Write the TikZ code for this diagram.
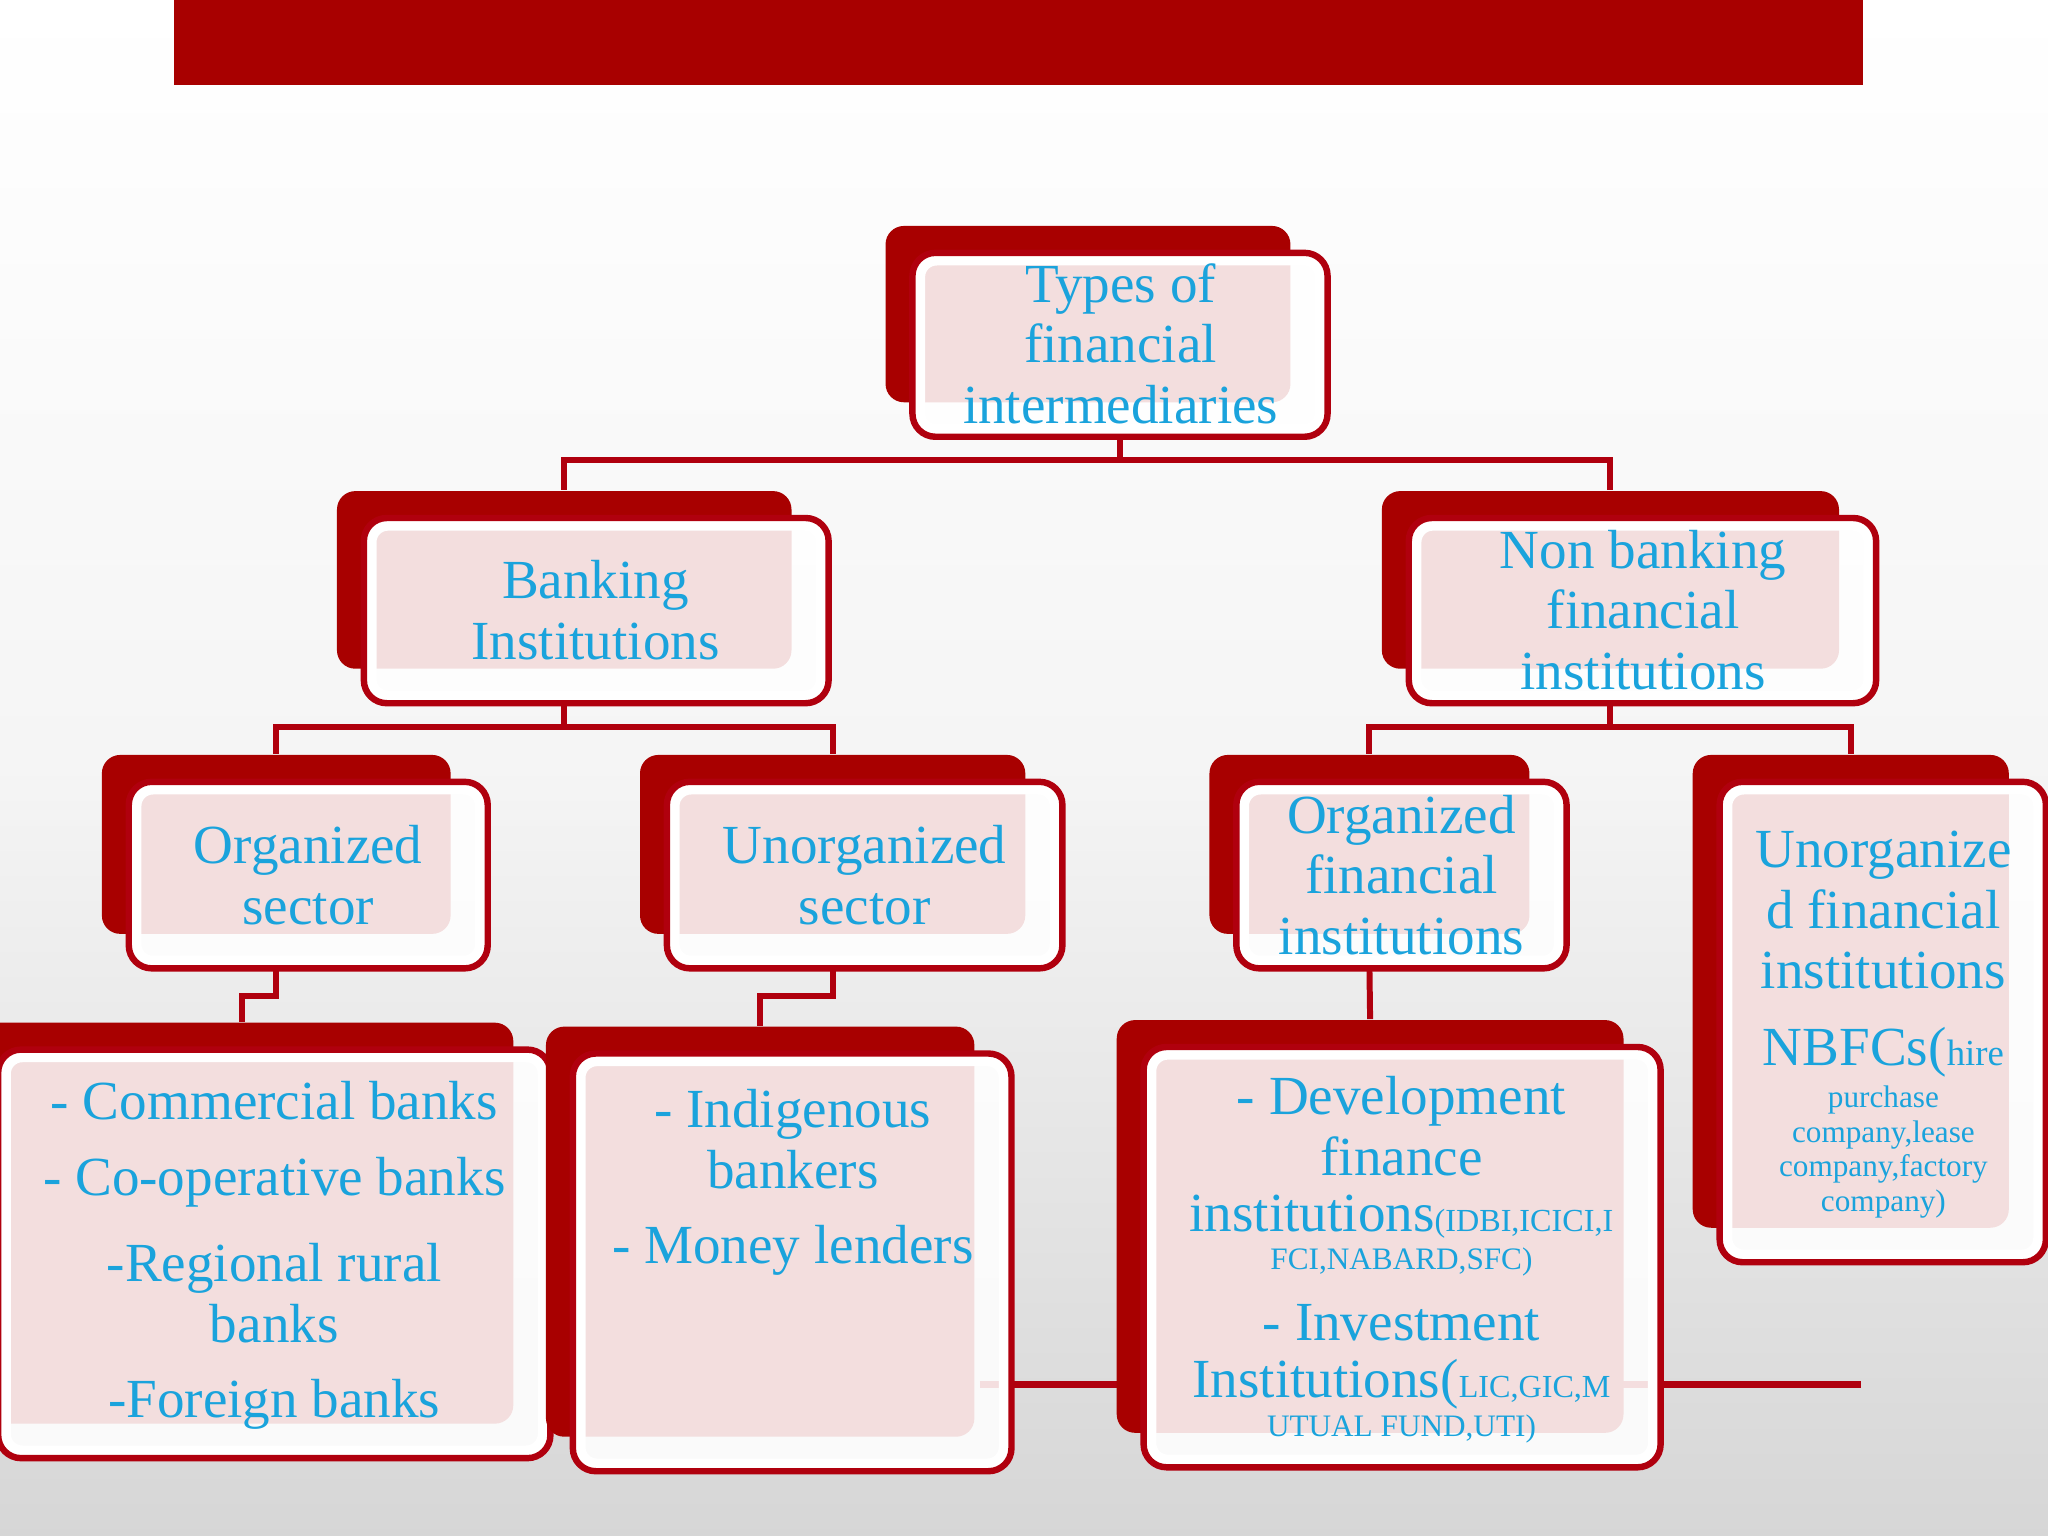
\documentclass[tikz,border=0pt]{standalone}
\usepackage{fontspec}
\setmainfont{Liberation Serif}
\usetikzlibrary{fit,calc}
\definecolor{dred}{HTML}{A80000}
\definecolor{bred}{HTML}{B0000E}
\definecolor{tcy}{HTML}{1AA3DC}
\tikzset{
  conn/.style={draw=bred,line width=1.3pt},
  backbox/.style={inner sep=0pt,fill=dred,rounded corners=4pt},
  frontbox/.style={inner sep=0pt,fill=white,fill opacity=.87,draw=white,line width=3pt,rounded corners=4pt},
  edgebox/.style={inner sep=0.4pt,draw=bred,line width=1.4pt,rounded corners=5pt},
  big/.style={text=tcy,font=\fontsize{12}{13.2}\selectfont,align=center,inner sep=0pt},
  sm/.style={text=tcy,font=\fontsize{6.8}{7.6}\selectfont,align=center,inner sep=0pt}
}
\newcommand\bx[5]{%
  \node[backbox,fit={(#2-22,#3-22)(#4-27,#5-25)}] (#1b) {};
  \node[frontbox,fit={(#2+3,#3+3)(#4-3,#5-3)}] (#1) {};
  \node[edgebox,fit={(#2,#3)(#4,#5)}] {};}
\begin{document}
\begin{tikzpicture}[x=0.01cm,y=-0.01cm]
\useasboundingbox (0,0) rectangle (1568,1176);
\shade[top color=white,bottom color=gray!32,middle color=gray!8] (0,0) rectangle (1568,1176);
\fill[dred] (133,0) rectangle (1426,65);
\coordinate (dl1) at (750,1060);
\coordinate (dl2) at (1425,1060);
\draw[conn,line width=1.6pt] (dl1) -- (dl2);
% boxes
\bx{t}{700}{195}{1015}{333}
\bx{bank}{280}{398}{633}{537}
\bx{nonb}{1080}{398}{1435}{537}
\bx{org}{100}{600}{372}{740}
\bx{unorg}{512}{600}{812}{740}
\bx{of}{948}{600}{1198}{740}
\bx{uf}{1318}{600}{1565}{965}
\bx{comm}{0}{805}{420}{1115}
\bx{indig}{440}{808}{773}{1125}
\bx{dev}{877}{803}{1270}{1122}
% connectors
\draw[conn] (t.south) -- ++(0,17) -| (bankb.north);
\draw[conn] (t.south) ++(0,17) -| (nonbb.north);
\draw[conn] (bankb.south |- bank.south) -- ++(0,17) -| (orgb.north);
\draw[conn] (bankb.south |- bank.south) ++(0,17) -| (unorgb.north);
\draw[conn] (nonbb.south |- nonb.south) -- ++(0,17) -| (ofb.north);
\draw[conn] (nonbb.south |- nonb.south) ++(0,17) -| (ufb.north);
\draw[conn] (orgb.south |- org.south) -- ++(0,20) -| (commb.north);
\draw[conn] (unorgb.south |- unorg.south) -- ++(0,20) -| (indigb.north);
\draw[conn] (ofb.south |- of.south) -- (devb.north);
% texts
\node[big] at (858,263) {Types of\\financial\\intermediaries};
\node[big] at (456,467) {Banking\\Institutions};
\node[big] at (1258,467) {Non banking\\financial\\institutions};
\node[big] at (236,670) {Organized\\sector};
\node[big] at (662,670) {Unorganized\\sector};
\node[big] at (1073,670) {Organized\\financial\\institutions};
\node[big] at (1442,697) {Unorganize\\d financial\\institutions};
\node[big,anchor=base] at (1442,816) {NBFCs({\fontsize{8}{9}\selectfont hire}};
\node[sm] at (1442,882) {purchase\\company,lease\\company,factory\\company)};
\node[big] at (210,843) {- Commercial banks};
\node[big] at (210,905) {- Co-operative banks};
\node[big] at (210,990) {-Regional rural\\banks};
\node[big] at (210,1075) {-Foreign banks};
\node[big] at (607,872) {- Indigenous\\bankers};
\node[big] at (607,957) {- Money lenders};
\node[big] at (1073,862) {- Development\\finance};
\node[big,anchor=base] at (1073,943) {institutions{\fontsize{7}{8}\selectfont (IDBI,ICICI,I}};
\node[sm] at (1073,966) {FCI,NABARD,SFC)};
\node[big] at (1073,1013) {- Investment};
\node[big,anchor=base] at (1073,1070) {Institutions({\fontsize{7}{8}\selectfont LIC,GIC,M}};
\node[sm] at (1073,1094) {UTUAL FUND,UTI)};
\end{tikzpicture}
\end{document}
